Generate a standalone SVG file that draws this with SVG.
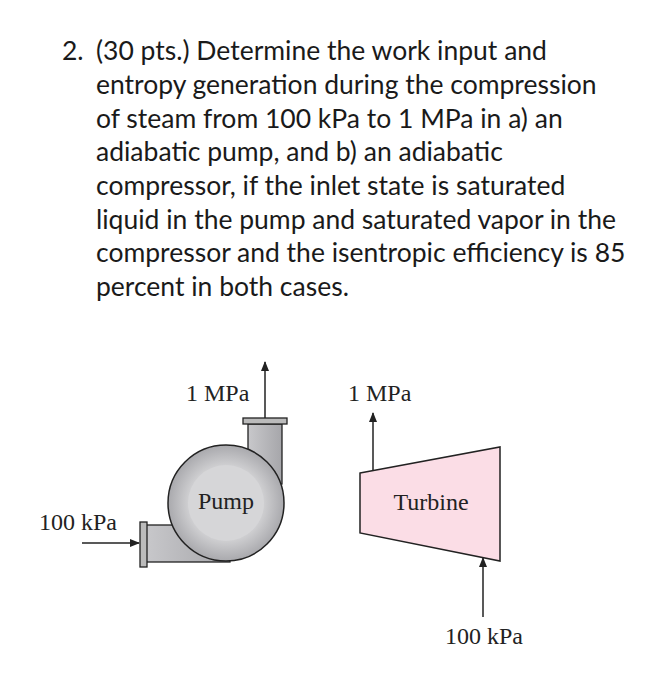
<svg xmlns="http://www.w3.org/2000/svg" width="661" height="700" viewBox="0 0 661 700">
<style>
.q{font-family:Lato,"Open Sans",sans-serif;font-size:26.5px;fill:#1a1a1a}
.l{font-family:"Liberation Serif",serif;font-size:24px;fill:#222}
.ln{stroke:#222;stroke-width:1.5;fill:none}
</style>
<defs>
<marker id="a" markerWidth="10" markerHeight="8" refX="9" refY="4" orient="auto" markerUnits="userSpaceOnUse"><path d="M0,0L10,4L0,8z" fill="#222"/></marker>
<radialGradient id="g" cx="0.5" cy="0.5" r="0.5"><stop offset="0.6" stop-color="#d4d4d6"/><stop offset="1" stop-color="#a9a9ad"/></radialGradient>
<linearGradient id="p" x1="0" y1="0" x2="1" y2="0"><stop offset="0" stop-color="#c8c8cb"/><stop offset="1" stop-color="#a6a6aa"/></linearGradient>
</defs>
<rect width="661" height="700" fill="#fff"/>
<g id="question">
<text class="q" x="62" y="60">2.</text>
<text class="q" x="96" y="60">(30 pts.) Determine the work input and</text>
<text class="q" x="96" y="94">entropy generation during the compression</text>
<text class="q" x="96" y="128">of steam from 100 kPa to 1 MPa in a) an</text>
<text class="q" x="96" y="161">adiabatic pump, and b) an adiabatic</text>
<text class="q" x="96" y="195">compressor, if the inlet state is saturated</text>
<text class="q" x="96" y="229">liquid in the pump and saturated vapor in the</text>
<text class="q" x="96" y="262">compressor and the isentropic efficiency is 85</text>
<text class="q" x="96" y="296">percent in both cases.</text>
</g>
<g id="pump">
<rect x="145" y="525" width="85" height="37" fill="url(#p)" stroke="#222" stroke-width="1.3"/>
<rect x="140" y="522" width="7" height="45" fill="#bbb" stroke="#222" stroke-width="1.3"/>
<rect x="248" y="424" width="34" height="60" fill="url(#p)" stroke="#222" stroke-width="1.3"/>
<rect x="243" y="418" width="44" height="6" fill="#bbb" stroke="#222" stroke-width="1.3"/>
<circle cx="226" cy="503" r="58" fill="url(#g)" stroke="#222" stroke-width="1.5"/>
<circle cx="226" cy="503" r="38" fill="#d6d6d8"/>
<text class="l" x="226" y="509" text-anchor="middle">Pump</text>
</g>
<g id="turbine">
<polygon points="360,473 500,447 500,561 360,533" fill="#fbdde6" stroke="#222" stroke-width="1.5"/>
<text class="l" x="431" y="510" text-anchor="middle">Turbine</text>
</g>
<g id="connectors">
<line class="ln" x1="265" y1="418" x2="265" y2="362" marker-end="url(#a)"/>
<line class="ln" x1="82" y1="543" x2="139" y2="543" marker-end="url(#a)"/>
<line class="ln" x1="373" y1="471" x2="373" y2="413" marker-end="url(#a)"/>
<line class="ln" x1="483" y1="617" x2="483" y2="558" marker-end="url(#a)"/>
</g>
<g id="labels">
<text class="l" x="186" y="401">1 MPa</text>
<text class="l" x="348" y="401">1 MPa</text>
<text class="l" x="39" y="530">100 kPa</text>
<text class="l" x="445" y="644">100 kPa</text>
</g>
</svg>
